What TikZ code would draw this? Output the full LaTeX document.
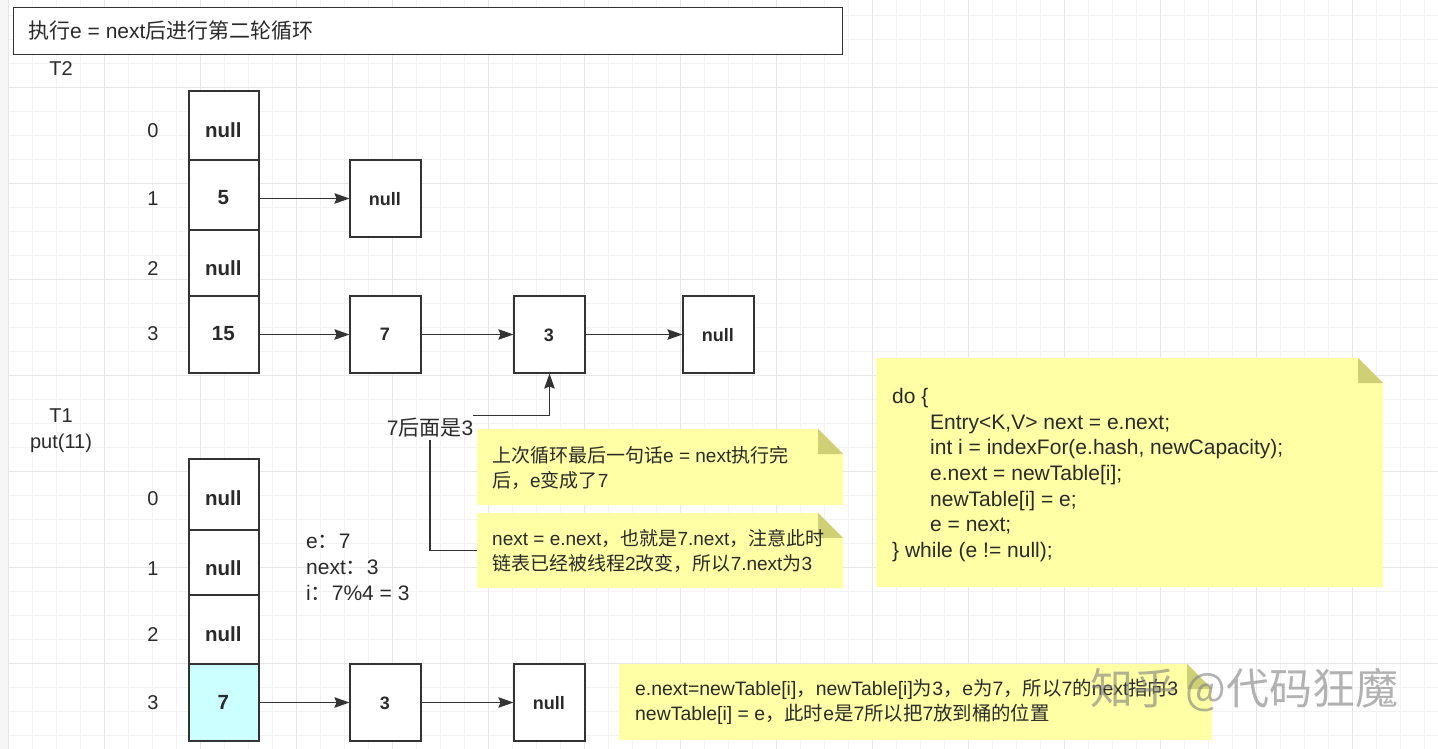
\documentclass[tikz,border=0pt]{standalone}
\usepackage{fontspec}
\setmainfont{Liberation Sans}
\newfontfamily\cjk{Noto Sans CJK SC}
\usetikzlibrary{arrows.meta}
\newcommand\C[1]{{\cjk #1}}
\newcommand\fs[2]{\fontsize{#1}{#2}\selectfont}
\newcommand\tb[1]{{\fs{20.5}{24}#1}}
\definecolor{ink}{HTML}{2A2A2A}
\definecolor{stroke}{HTML}{333333}
\definecolor{gridminor}{HTML}{F2F2F2}
\definecolor{gridmajor}{HTML}{E6E6E6}
\definecolor{notefill}{HTML}{FFFFA6}
\definecolor{notefold}{HTML}{CFCF75}
\definecolor{cellcyan}{HTML}{CCFFFF}
\tikzset{
  cell/.style={draw=stroke,line width=1.1pt,fill=white,inner sep=0pt,rectangle},
  celltext/.style={font=\bfseries\fs{18}{22},text=ink,inner sep=0pt},
  plain/.style={font=\fs{21}{26},text=ink,inner sep=0pt,align=left},
  idx/.style={font=\fs{20}{22},text=ink,inner sep=0pt},
  link/.style={draw=stroke,line width=1.1pt,-{Stealth[length=15pt,width=10.5pt,inset=2pt]}},
  leader/.style={draw=stroke,line width=1.1pt},
  notetext/.style={font=\fs{19}{25},text=ink,inner sep=0pt,align=left},
}
% name, x0,y0,x1,y1, text centre y, text
\newcommand\cellbox[8][]{%
  \node[cell,#1,minimum width={(#5-#3)*1pt},minimum height={(#6-#4)*1pt}] (#2) at ({(#3+#5)/2},{(#4+#6)/2}) {};
  \node[celltext] (#2t) at ({(#3+#5)/2-0.7},#7) {#8};}
% name, x0,y0,x1,y1, pad-left, text, options of the text
\newcommand\notebox[8][]{%
  \fill[notefill] (#3,#4) -- ({#5-25},#4) -- (#5,{#4+25}) -- (#5,#6) -- (#3,#6) -- cycle;
  \fill[notefold] ({#5-25},#4) -- ({#5-25},{#4+25}) -- (#5,{#4+25}) -- cycle;
  \node[inner sep=0pt,minimum width={(#5-#3)*1pt},minimum height={(#6-#4)*1pt},anchor=north west] (#2) at (#3,#4) {};
  \node[notetext,anchor=west,#1] (#2t) at ({#3+#7},{(#4+#6)/2}) {#8};}
\begin{document}
\begin{tikzpicture}[x=1pt,y=-1pt]
\useasboundingbox (0,0) rectangle (1438,749);
\fill[white] (0,0) rectangle (1438,749);
\fill[gridminor!70!white] (0,0) rectangle (8,749);
\foreach \k in {0,...,59} {\draw[gridminor,line width=.8pt] ({8+24*\k},0) -- ({8+24*\k},749);}
\foreach \k in {0,...,31} {\draw[gridminor,line width=.8pt] (8,{15+24*\k}) -- (1438,{15+24*\k});}
\foreach \k in {0,...,14} {\draw[gridmajor,line width=.8pt] ({8+96*\k},0) -- ({8+96*\k},749);}
\foreach \k in {0,...,6} {\draw[gridmajor,line width=.8pt] (8,{87+96*\k}) -- (1438,{87+96*\k});}

% title
\node[cell,minimum width=829pt,minimum height=47pt,anchor=north west] (title) at (13,7) {};
\node[anchor=west,inner sep=0pt,text=ink,font=\fs{21}{24}] (titlet) at (28,31) {\C{执行}e = next\C{后进行第二轮循环}};
\node[idx] (t2) at (61,69) {T2};

% T2 table
\node[idx] (i0) at (153,131) {0};
\node[idx] (i1) at (153,199) {1};
\node[idx] (i2) at (153,269) {2};
\node[idx] (i3) at (153,334) {3};
\cellbox{a0}{189}{91}{259}{160}{130}{\tb{null}}
\cellbox{a1}{189}{160}{259}{230}{198}{\tb{5}}
\cellbox{a2}{189}{230}{259}{296}{268}{\tb{null}}
\cellbox{a3}{189}{296}{259}{373}{334}{\tb{15}}
\cellbox{c1}{350}{160}{421}{237}{199}{null}
\cellbox{d1}{350}{296}{421}{373}{334}{7}
\cellbox{d2}{514}{296}{585}{373}{335}{3}
\cellbox{d3}{683}{296}{754}{373}{335}{null}
\draw[link] (a1.east |- c1.west) -- (c1.west);
\draw[link] (a3.east) -- (d1.west);
\draw[link] (d1.east) -- (d2.west);
\draw[link] (d2.east) -- (d3.west);

% T1 table
\node[idx,align=center,font=\fs{20}{26}] (t1) at (61,430.5) {T1\\put(11)};
\node[idx] (j0) at (153,499) {0};
\node[idx] (j1) at (153,569) {1};
\node[idx] (j2) at (153,635) {2};
\node[idx] (j3) at (153,703) {3};
\cellbox{b0}{189}{459}{259}{530}{498}{\tb{null}}
\cellbox{b1}{189}{530}{259}{595}{568}{\tb{null}}
\cellbox{b2}{189}{595}{259}{664}{634}{\tb{null}}
\cellbox[fill=cellcyan]{b3}{189}{664}{259}{741}{702}{\tb{7}}
\cellbox{e1}{350}{664}{421}{741}{703}{3}
\cellbox{e2}{514}{664}{585}{741}{703}{null}
\draw[link] (b3.east) -- (e1.west);
\draw[link] (e1.east) -- (e2.west);

\node[plain,anchor=north west] (vars) at (306,533.5) {e\C{：}7\\next\C{：}3\\i\C{：}7\%4 = 3};

% notes
\notebox[yshift=-1pt]{n1}{477}{429}{843}{505}{15}{\C{上次循环最后一句话}e = next\C{执行完}\\\C{后，}e\C{变成了}7}
\notebox{n2}{477}{513}{843}{588}{15}{next = e.next\C{，也就是}7.next\C{，注意此时}\\\C{链表已经被线程}2\C{改变，所以}7.next\C{为}3}
\notebox[font=\fs{21}{25.6},yshift=-2.5pt]{n3}{876}{358}{1383}{587}{16}{do \{\\\hspace*{38pt}Entry<K,V> next = e.next;\\\hspace*{38pt}int i = indexFor(e.hash, newCapacity);\\\hspace*{38pt}e.next = newTable[i];\\\hspace*{38pt}newTable[i] = e;\\\hspace*{38pt}e = next;\\\} while (e != null);}
\notebox[font=\fs{19.4}{24.5}]{n4}{619}{664}{1212}{740}{16}{e.next=newTable[i]\C{，}newTable[i]\C{为}3\C{，}e\C{为}7\C{，所以}7\C{的}next\C{指向}3\\newTable[i] = e\C{，此时}e\C{是}7\C{所以把}7\C{放到桶的位置}}

% connectors from the label
\node[idx,font=\fs{21}{24},minimum height=24pt,minimum width=86pt] (lab) at (430,428) {7\C{后面是}3};
\draw[link] (lab.north east) -| (d2.south);
\draw[leader] (lab.south) |- (n2.west);

% watermark
\node[anchor=west,inner sep=0pt,text=gray,opacity=.6,font={\cjk\fs{43}{46}}] (mark) at (1090,690) {知乎 @代码狂魔};
\end{tikzpicture}
\end{document}
